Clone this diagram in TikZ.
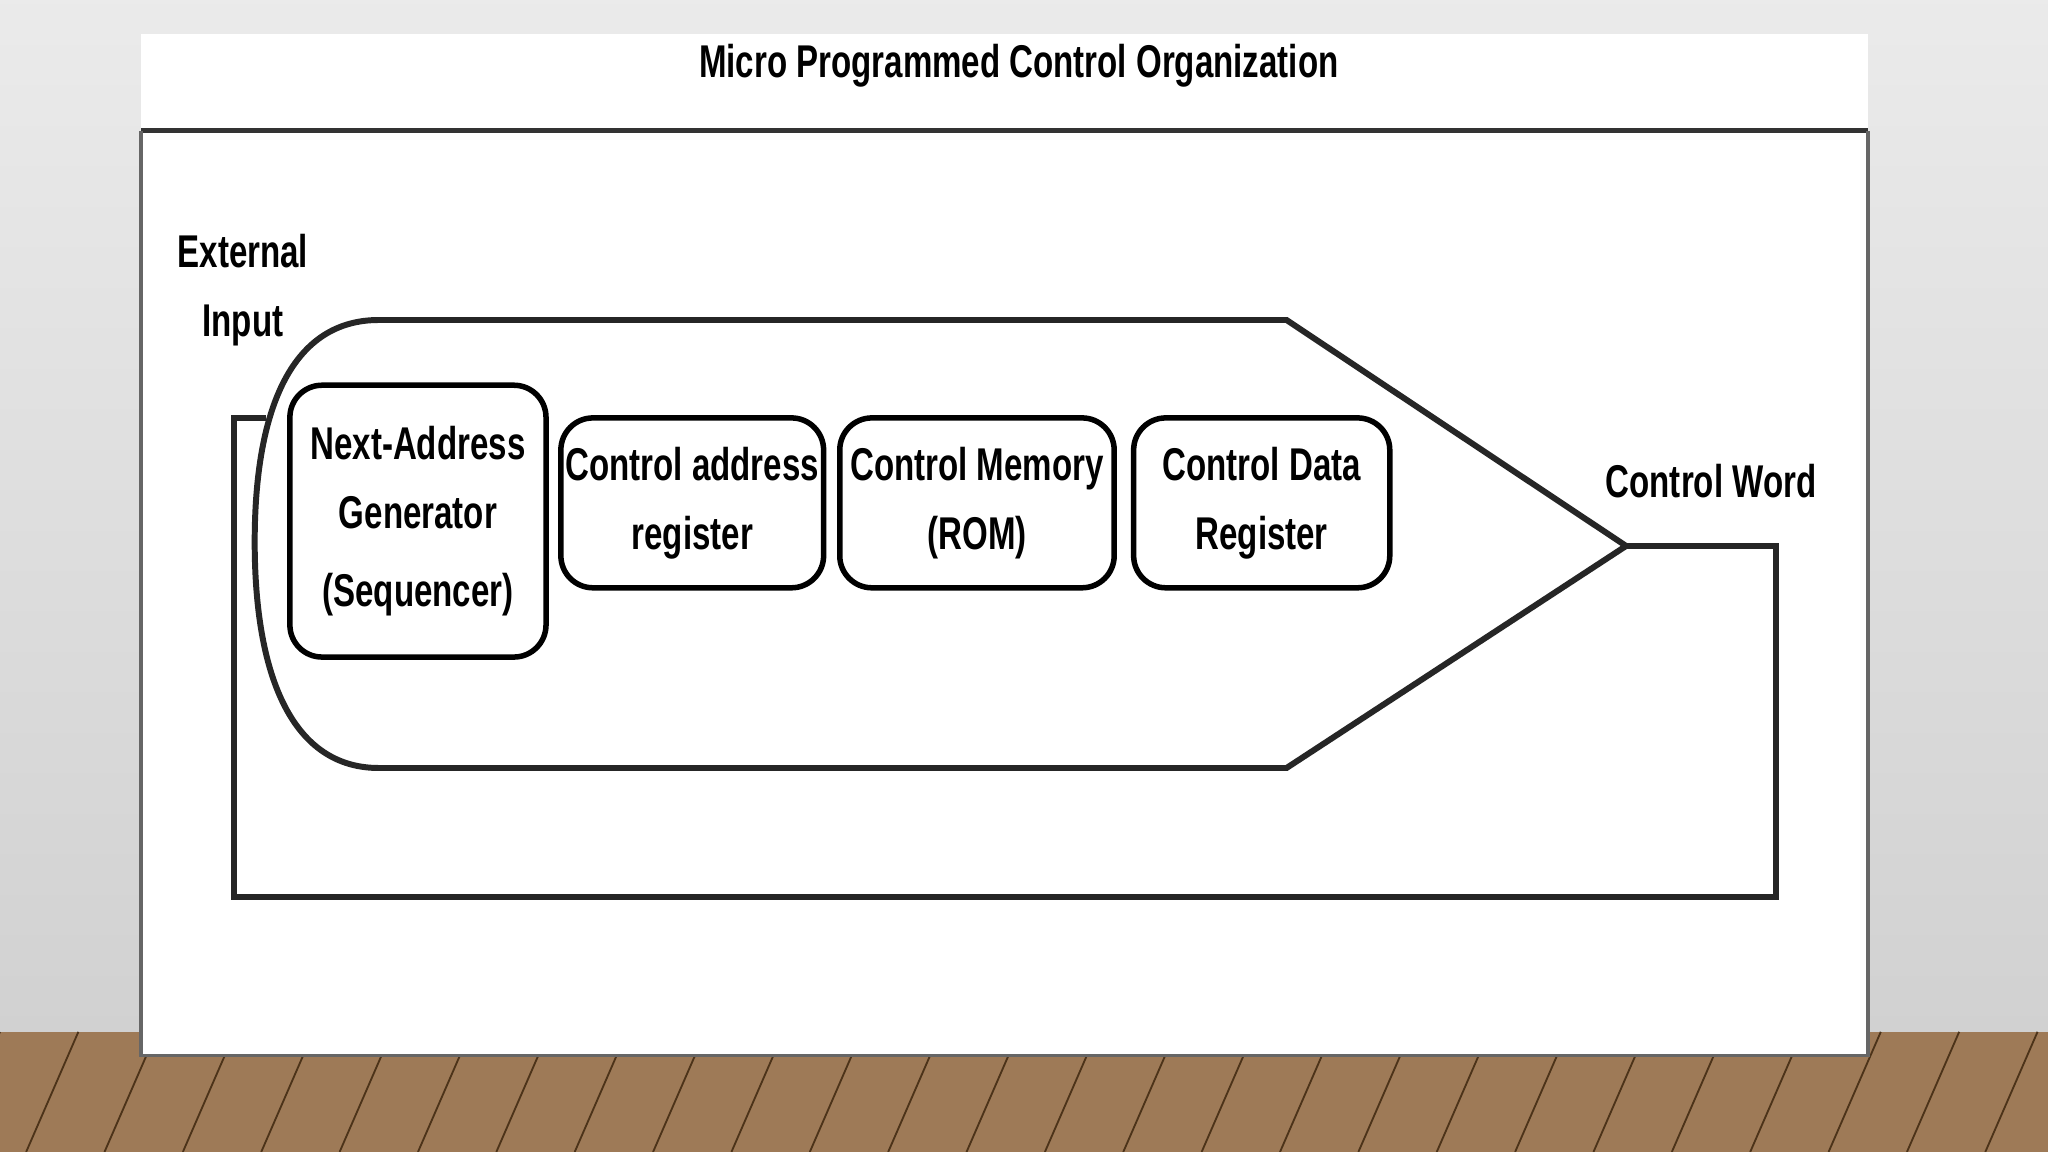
\documentclass[tikz,border=0pt]{standalone}
\usepackage{fontspec}
\setmainfont{Liberation Sans}[FakeStretch=0.72]
\usetikzlibrary{positioning}
\begin{document}
\begin{tikzpicture}
		[x=0.01cm, y=-0.01cm,
		block/.style ={rectangle, draw=black, very thick, rounded corners=7pt, align=center, inner xsep=1pt, font=\fontsize{10}{15}\selectfont\bfseries},
		lbl/.style ={align=center, font=\fontsize{10}{15}\selectfont\bfseries},
		wire/.style ={draw=black!85, line width=1.3pt},
		]
		% backdrop
		\useasboundingbox (0,0) rectangle (1568,882);
		\shade[top color=black!8, bottom color=black!18] (0,0) rectangle (1568,790);
		\fill[brown!70!black!80] (0,790) rectangle (1568,882);
		\foreach \i in {0,60,...,1560}
			\draw[brown!40!black, thin] (\i,790) -- (\i-40,882);
		\fill[white] (108,26) rectangle (1430,808);
		\draw[black!80, very thick] (108,100) -- (1430,100);
		\draw[black!60, thick] (108,100) -- (108,808) -- (1430,808) -- (1430,100);

		\node[lbl] (title) at (780,50) {Micro Programmed Control Organization};

		% capsule
		\draw[wire] (290,245) -- (985,245) -- (1245,418) -- (985,588) -- (290,588)
			.. controls (225,588) and (195,520) .. (195,415)
			.. controls (195,310) and (225,245) .. cycle;
		\coordinate (tip) at (1245,418);

		% feedback loop
		\coordinate (lt) at (204,320);
		\draw[wire] (tip) -- (1360,418) -- (1360,687) -- (179,687) -- (179,320) -- (lt);

		\node[block, minimum width=1.96cm, minimum height=2.08cm] (nag) at (320,399) {Next-Address\\Generator\\[2pt](Sequencer)};
		\node[block, minimum width=1.96cm, minimum height=1.3cm] (car) at (530,385) {Control address\\register};
		\node[block, minimum width=2.1cm, minimum height=1.3cm] (cm) at (748,385) {Control Memory\\(ROM)};
		\node[block, minimum width=1.96cm, minimum height=1.3cm] (cdr) at (966,385) {Control Data\\Register};

		\node[lbl] (ext) at (186,222) {External\\Input};
		\node[lbl] (cw) at (1310,368) {Control Word};
	\end{tikzpicture}
\end{document}
